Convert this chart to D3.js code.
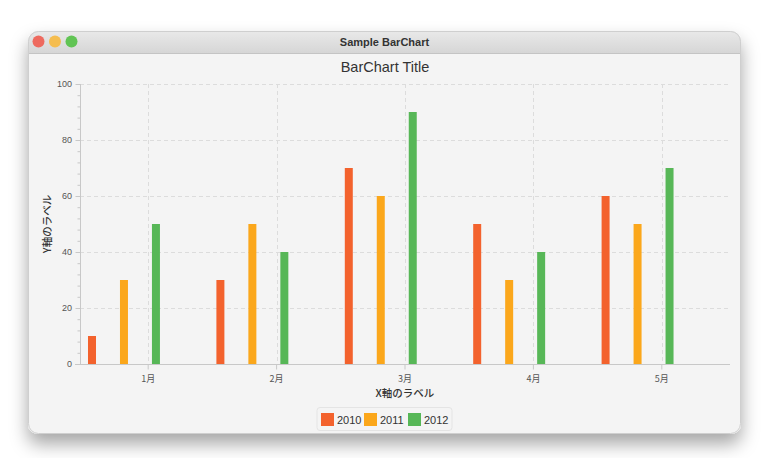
<!DOCTYPE html>
<html>
<head>
<meta charset="utf-8">
<script src="https://cdn.jsdelivr.net/npm/d3@7"></script>
<style>
  body { margin: 0; background: #fff; }
  svg { display: block; }
</style>
</head>
<body>
<svg id="chart"></svg>
<script>
var months = ["1月", "2月", "3月", "4月", "5月"];
var years = ["2010", "2011", "2012"];
var values2010 = [10, 30, 70, 50, 60];
var values2011 = [30, 50, 60, 30, 50];
var values2012 = [50, 40, 90, 40, 70];
var yTicks = [0, 20, 40, 60, 80, 100];
var colors = ["#f3622d", "#fba71b", "#57b757"];

var seriesValues = [values2010, values2011, values2012];

var width = 768, height = 458;
var font = "'Noto Sans CJK JP', 'Noto Sans', sans-serif";
var latin = "'Liberation Sans', Arial, sans-serif";

var svg = d3.select("#chart").attr("width", width).attr("height", height);
var defs = svg.append("defs");

// window shadow
var shadow = defs.append("filter").attr("id", "shadow")
  .attr("x", "-10%").attr("y", "-10%").attr("width", "120%").attr("height", "130%");
shadow.append("feDropShadow").attr("dx", 0).attr("dy", 10).attr("stdDeviation", 9)
  .attr("flood-color", "#000").attr("flood-opacity", 0.35);

var titleGrad = defs.append("linearGradient").attr("id", "titlebar")
  .attr("x1", 0).attr("y1", 0).attr("x2", 0).attr("y2", 1);
titleGrad.append("stop").attr("offset", "0%").attr("stop-color", "#e9e9e9");
titleGrad.append("stop").attr("offset", "100%").attr("stop-color", "#d6d6d6");

var win = { x: 28, y: 31, w: 713, h: 403 };

svg.append("rect")
  .attr("x", win.x).attr("y", win.y).attr("width", win.w).attr("height", win.h)
  .attr("rx", 10).attr("fill", "#f4f4f4").attr("filter", "url(#shadow)");

// title bar
var clip = defs.append("clipPath").attr("id", "winclip");
clip.append("rect").attr("x", win.x).attr("y", win.y).attr("width", win.w).attr("height", win.h).attr("rx", 10);
svg.append("rect").attr("clip-path", "url(#winclip)")
  .attr("x", win.x).attr("y", win.y).attr("width", win.w).attr("height", 22)
  .attr("fill", "url(#titlebar)");
svg.append("line").attr("x1", win.x).attr("x2", win.x + win.w).attr("y1", 53.5).attr("y2", 53.5)
  .attr("stroke", "#c4c4c4");
svg.append("rect")
  .attr("x", win.x + 0.5).attr("y", win.y + 0.5).attr("width", win.w - 1).attr("height", win.h - 1)
  .attr("rx", 10).attr("fill", "none").attr("stroke", "#cfcfcf");

[["#ee6a5f", 38.5], ["#f5bd4f", 55], ["#61c454", 71.5]].forEach(function(b) {
  svg.append("circle").attr("cx", b[1]).attr("cy", 41.5).attr("r", 6).attr("fill", b[0]);
});

svg.append("text").attr("x", 384.5).attr("y", 45.5).attr("text-anchor", "middle")
  .attr("font-family", latin).attr("font-size", 11).attr("font-weight", "bold")
  .attr("fill", "#333").text("Sample BarChart");

// chart title
svg.append("text").attr("x", 385).attr("y", 72).attr("text-anchor", "middle")
  .attr("font-family", latin).attr("font-size", 14.5)
  .attr("fill", "#333").text("BarChart Title");

// plot area
var plot = { left: 80, right: 730, top: 84, bottom: 364 };

var x = d3.scaleBand().domain(months).range([84, 726]);
var y = d3.scaleLinear().domain([0, 100]).range([plot.bottom, plot.top]);
var xs = d3.scaleBand().domain(years)
  .range([0, x.bandwidth() * 80 / 128.5])
  .paddingInner(0.75).paddingOuter(0.125);

var g = svg.append("g");

// horizontal grid
g.selectAll(".hgrid").data(yTicks.filter(function(d) { return d > 0; }))
  .enter().append("line")
  .attr("x1", plot.left).attr("x2", plot.right)
  .attr("y1", function(d) { return Math.round(y(d)) + 0.5; })
  .attr("y2", function(d) { return Math.round(y(d)) + 0.5; })
  .attr("stroke", "#dcdcdc").attr("stroke-dasharray", "4,3");

// vertical grid
g.selectAll(".vgrid").data(months)
  .enter().append("line")
  .attr("x1", function(d) { return Math.round(x(d) + x.bandwidth() / 2) + 0.5; })
  .attr("x2", function(d) { return Math.round(x(d) + x.bandwidth() / 2) + 0.5; })
  .attr("y1", plot.top).attr("y2", plot.bottom)
  .attr("stroke", "#dcdcdc").attr("stroke-dasharray", "4,3");

// bars
seriesValues.forEach(function(vals, si) {
  g.selectAll(".bar" + si).data(vals)
    .enter().append("rect")
    .attr("x", function(d, i) { return x(months[i]) + xs(years[si]); })
    .attr("width", xs.bandwidth())
    .attr("y", function(d) { return y(d); })
    .attr("height", function(d) { return y(0) - y(d); })
    .attr("fill", colors[si]);
});

// y axis
var yAxis = d3.axisLeft(y).tickValues(d3.range(0, 101, 4)).tickSize(5)
  .tickFormat(function(d) { return yTicks.indexOf(d) >= 0 ? d : ""; });
var ya = svg.append("g").attr("transform", "translate(" + (plot.left + 0.5) + ",0)").call(yAxis);
ya.select(".domain").attr("stroke", "#c8c8c8").attr("d", "M0," + plot.top + "V" + plot.bottom);
ya.selectAll(".tick line").attr("stroke", "#c8c8c8")
  .attr("x2", function(d) { return yTicks.indexOf(d) >= 0 ? -5 : -3; });
ya.selectAll(".tick text").attr("font-family", latin).attr("font-size", 9)
  .attr("fill", "#555").attr("x", -8.5);

// x axis
var xAxis = d3.axisBottom(x).tickSize(5).tickPadding(6);
var xa = svg.append("g").attr("transform", "translate(0," + (plot.bottom + 0.5) + ")").call(xAxis);
xa.select(".domain").attr("stroke", "#c8c8c8").attr("d", "M" + (plot.left - 5) + ",0H" + plot.right);
xa.selectAll(".tick line").attr("stroke", "#c8c8c8");
xa.selectAll(".tick text").attr("font-family", font).attr("font-size", 9).attr("fill", "#555");

// axis labels
svg.append("text").attr("x", (plot.left + plot.right) / 2).attr("y", 397)
  .attr("text-anchor", "middle").attr("font-family", font).attr("font-size", 10.5)
  .attr("font-weight", 500).attr("fill", "#333").text("X軸のラベル");
svg.append("text")
  .attr("transform", "translate(50.5," + ((plot.top + plot.bottom) / 2) + ") rotate(-90)")
  .attr("text-anchor", "middle").attr("font-family", font).attr("font-size", 10.5)
  .attr("font-weight", 500).attr("fill", "#333").text("Y軸のラベル");

// legend
var legend = svg.append("g");
legend.append("rect").attr("x", 317).attr("y", 407.5).attr("width", 135).attr("height", 23)
  .attr("rx", 3).attr("fill", "#f4f4f4").attr("stroke", "#e4e4e4");
var legendX = [321, 364, 408];
years.forEach(function(yr, i) {
  legend.append("rect").attr("x", legendX[i]).attr("y", 413).attr("width", 13).attr("height", 13)
    .attr("fill", colors[i]);
  legend.append("text").attr("x", legendX[i] + 16).attr("y", 423.5)
    .attr("font-family", latin).attr("font-size", 11)
    .attr("fill", "#333").text(yr);
});
</script>
</body>
</html>
